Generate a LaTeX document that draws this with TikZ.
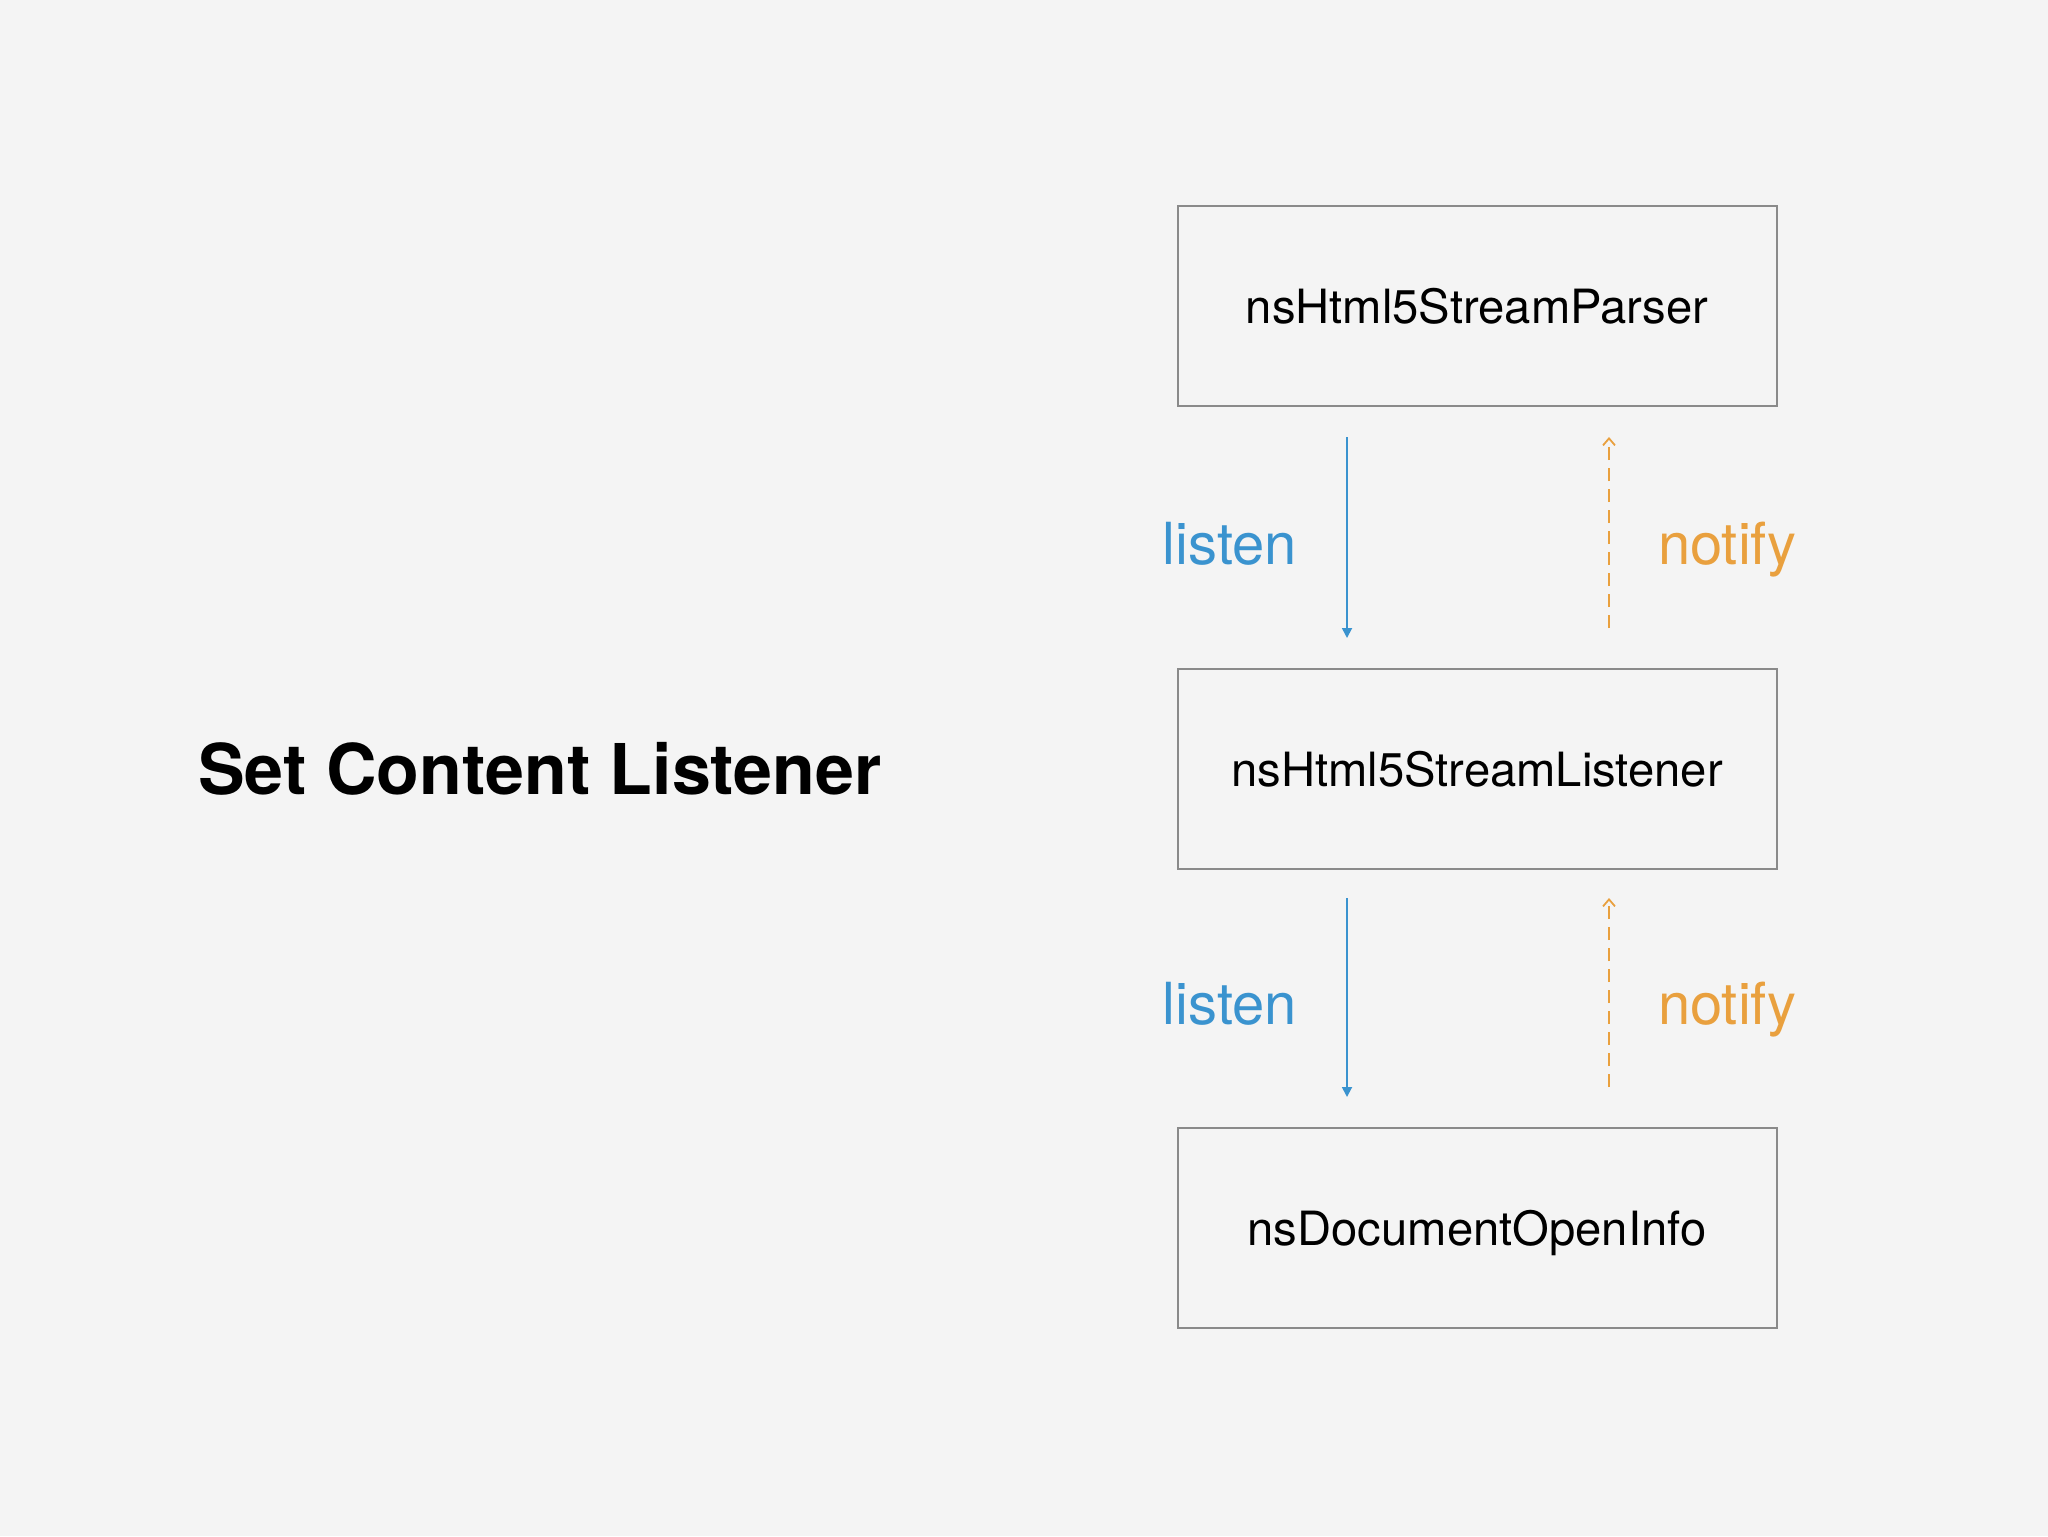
\documentclass[tikz,border=0pt]{standalone}
\usepackage{fontspec}
\setmainfont{TeX Gyre Heros}
\usetikzlibrary{arrows.meta}
\definecolor{bgc}{HTML}{F4F4F4}
\definecolor{boxc}{HTML}{8A8A8A}
\definecolor{bluec}{HTML}{3A93CF}
\definecolor{orangec}{HTML}{E9A03E}
\tikzset{
  classbox/.style={draw=boxc, line width=1pt, minimum width=299.5pt, minimum height=100pt, inner sep=0pt, text height=17pt, text depth=-2.5pt, font=\fontsize{23.6}{28}\selectfont},
  listenarrow/.style={draw=bluec, line width=0.9pt, -{Triangle[length=5pt,width=5pt]}},
  notifyarrow/.style={draw=orangec, line width=0.9pt, dash pattern=on 6.5pt off 4pt, -{Straight Barb[length=3.5pt,width=6pt]}},
  listenlabel/.style={text=bluec, font=\fontsize{29}{34}\selectfont, inner sep=0pt, anchor=base},
  notifylabel/.style={text=orangec, font=\fontsize{29}{34}\selectfont, inner sep=0pt, anchor=base},
  titlelabel/.style={font=\bfseries\fontsize{35}{42}\selectfont, inner sep=0pt}
}
\begin{document}
\begin{tikzpicture}[x=0.5pt,y=-0.5pt]
\fill[bgc] (0,0) rectangle (2048,1536);
\useasboundingbox (0,0) rectangle (2048,1536);
\node[titlelabel] (title) at (540,769) {Set Content Listener};
\node[classbox] (parser) at (1477,306) {nsHtml5StreamParser};
\node[classbox] (listener) at (1477,769) {nsHtml5StreamListener};
\node[classbox] (openinfo) at (1477,1228) {nsDocumentOpenInfo};
\draw[listenarrow] ([xshift=-65pt,yshift=-15pt]parser.south) -- ([xshift=-65pt,yshift=15pt]listener.north);
\draw[notifyarrow] ([xshift=66pt,yshift=20pt]listener.north) -- ([xshift=66pt,yshift=-15pt]parser.south);
\draw[listenarrow] ([xshift=-65pt,yshift=-14pt]listener.south) -- ([xshift=-65pt,yshift=15pt]openinfo.north);
\draw[notifyarrow] ([xshift=66pt,yshift=20pt]openinfo.north) -- ([xshift=66pt,yshift=-14pt]listener.south);
\node[listenlabel] (l1) at (1230,564) {listen};
\node[notifylabel] (n1) at (1727,564) {notify};
\node[listenlabel] (l2) at (1230,1024) {listen};
\node[notifylabel] (n2) at (1727,1024) {notify};
\end{tikzpicture}
\end{document}
